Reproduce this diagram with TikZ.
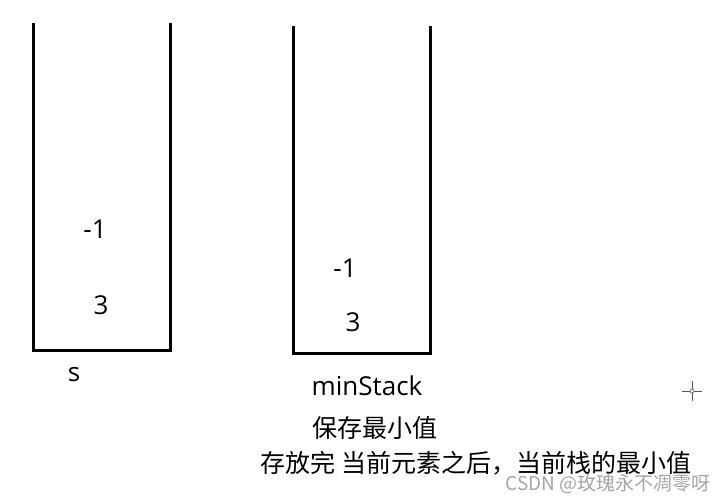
\documentclass[tikz,border=0pt]{standalone}
\usepackage{fontspec}
\setmainfont{Open Sans}
\newfontfamily\cjk{Noto Sans CJK SC}
\usepackage{tikz}
\usetikzlibrary{positioning}
\definecolor{wmgray}{RGB}{165,165,165}
\definecolor{curgray}{RGB}{90,90,90}

\begin{document}
\begin{tikzpicture}[x=1pt,y=-1pt,
    every node/.style={inner sep=0pt,font=\fontsize{26}{30}\selectfont},
    wall/.style={line width=3pt,line cap=rect},
    cjktext/.style={font=\cjk\fontsize{25}{30}\selectfont}]
  \useasboundingbox (0,0) rectangle (726,502);

  % ── stacks ───────────────────────────────────────────────
  \draw[wall] (33,25) |- (170,351) -- (170,25);
  \draw[wall] (293,28) |- (430,354) -- (430,28);

  % s
  \node (sTop) at (95,229) {-1};
  \node (sBot) at (101,305) {3};
  \node (sName) at (74,375) {s};

  % minStack
  \node (mTop) at (345,268) {-1};
  \node (mBot) at (353,322) {3};
  \node (mName) at (367,386) {minStack};

  % notes
  \node[cjktext] (note1) at (375,428) {保存最小值};
  \node[cjktext] (note2) at (476,463) {存放完 当前元素之后，当前栈的最小值};

  % watermark
  \node[font=\cjk\fontsize{19}{22}\selectfont,text=wmgray,anchor=east] (wm) at (711,484)
    {CSDN @玫瑰永不凋零呀};

  % cursor
  \draw[curgray,line width=0.8pt] (682,391) -- (702,391) (692,381) -- (692,401);
  \draw[curgray,fill=white,line width=0.6pt] (692,391) circle (2);

\end{tikzpicture}
\end{document}
